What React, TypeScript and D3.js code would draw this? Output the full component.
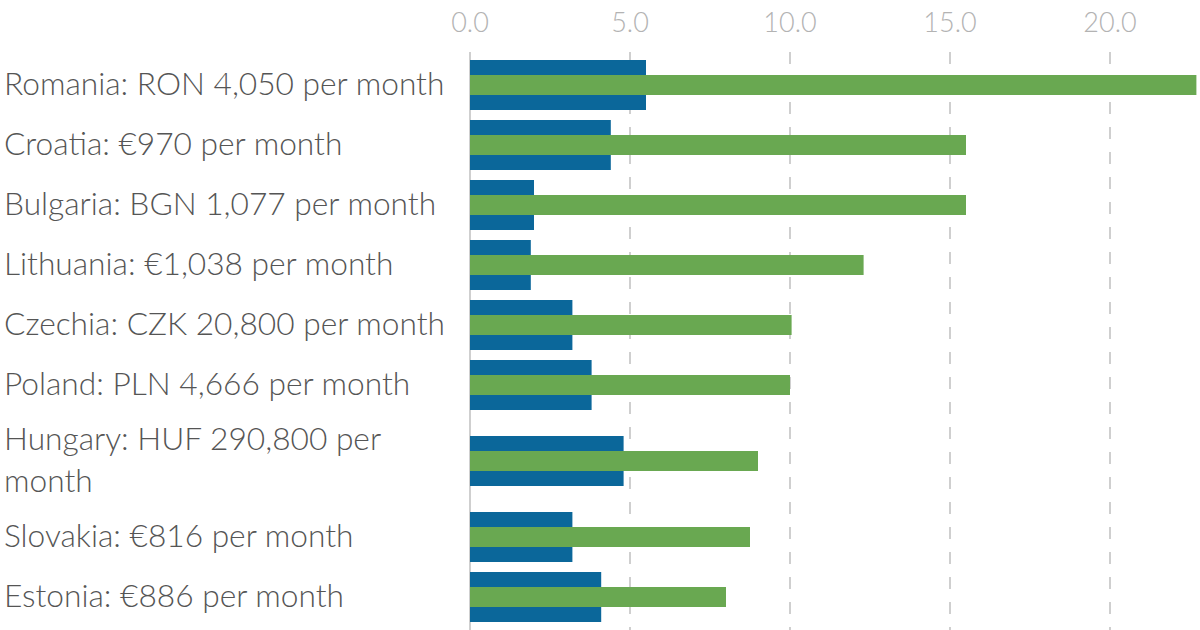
import React from "react";
import * as d3 from "d3";

const categories = [
  "Romania: RON 4,050 per month",
  "Croatia: €970 per month",
  "Bulgaria: BGN 1,077 per month",
  "Lithuania: €1,038 per month",
  "Czechia: CZK 20,800 per month",
  "Poland: PLN 4,666 per month",
  "Hungary: HUF 290,800 per month",
  "Slovakia: €816 per month",
  "Estonia: €886 per month",
];
const blueValues = [5.5, 4.4, 2.0, 1.9, 3.2, 3.8, 4.8, 3.2, 4.1];
const greenValues = [22.7, 15.5, 15.5, 12.3, 10.05, 10.0, 9.0, 8.75, 8.0];
const tickValues = [0, 5, 10, 15, 20];

const W = 1200;
const H = 630;
const FONT = "Lato, 'Source Sans Pro', sans-serif";
const LABEL_SIZE = 31.7;
const LABEL_WEIGHT = 300;
const WRAP_WIDTH = 462;

function wrapLabel(text: string): string[] {
  const canvas = document.createElement("canvas");
  const ctx = canvas.getContext("2d")!;
  ctx.font = `${LABEL_WEIGHT} ${LABEL_SIZE}px Lato`;
  const words = text.split(" ");
  const lines: string[] = [];
  let cur = "";
  for (const w of words) {
    const t = cur ? cur + " " + w : w;
    if (cur && ctx.measureText(t).width + 4 > WRAP_WIDTH) {
      lines.push(cur);
      cur = w;
    } else cur = t;
  }
  if (cur) lines.push(cur);
  return lines;
}

export default function App() {
  const x = d3.scaleLinear().domain([0, 22.8125]).range([470, W]);
  const wrapped = categories.map(wrapLabel);
  const heights = wrapped.map((l) => 60 + (l.length - 1) * 32);
  const tops = d3.cumsum([55, ...heights]);
  const centers = categories.map((_, i) => tops[i] + heights[i] / 2);
  const yCenter = d3.scaleOrdinal<string, number>().domain(categories).range(centers);
  const blueH = 50;
  const greenH = 20;

  return (
    <svg
      width={W}
      height={H}
      style={{ position: "absolute", left: 0, top: 0, background: "#fff" }}
      fontFamily={FONT}
    >
      {tickValues.map((t) => (
        <g key={t}>
          <text
            x={x(t)}
            y={32}
            textAnchor="middle"
            fontSize={27}
            fontWeight={300}
            fill="#b3b3b3"
          >
            {d3.format(".1f")(t)}
          </text>
          {t !== 0 && (
            <line
              x1={x(t)}
              x2={x(t)}
              y1={52}
              y2={H}
              stroke="#cfcfcf"
              strokeWidth={2}
              strokeDasharray="12,13"
            />
          )}
        </g>
      ))}
      <line x1={x(0)} x2={x(0)} y1={52} y2={H} stroke="#cfcfcf" strokeWidth={2} />
      {categories.map((c, i) => (
        <g key={c}>
          <rect
            x={x(0)}
            y={yCenter(c) - blueH / 2}
            width={x(blueValues[i]) - x(0)}
            height={blueH}
            fill="#0b679a"
          />
          <rect
            x={x(0)}
            y={yCenter(c) - greenH / 2}
            width={x(greenValues[i]) - x(0)}
            height={greenH}
            fill="#69a851"
          />
          <text fontSize={LABEL_SIZE} fontWeight={LABEL_WEIGHT} fill="#555">
            {wrapped[i].map((line, j) => (
              <tspan
                key={j}
                x={4}
                y={yCenter(c) + 10 + (j - (wrapped[i].length - 1) / 2) * 42}
              >
                {line}
              </tspan>
            ))}
          </text>
        </g>
      ))}
    </svg>
  );
}
